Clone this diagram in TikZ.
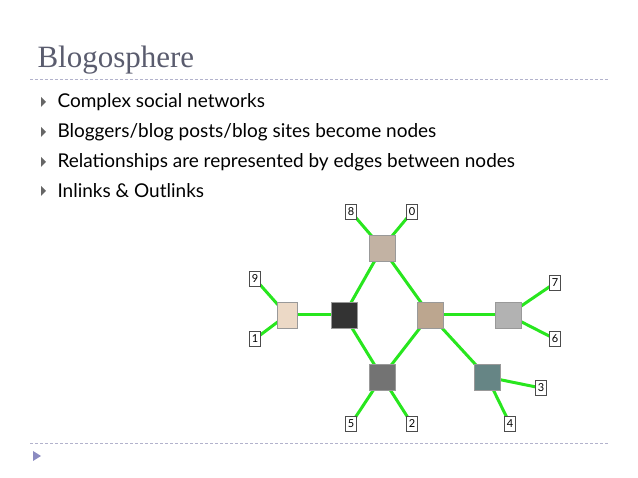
\documentclass[tikz,border=0pt]{standalone}
\usepackage{fontspec}
\setmainfont{Lato}
\newfontfamily\titlefont{Liberation Serif}
\usetikzlibrary{backgrounds}
\definecolor{titlegray}{RGB}{90,92,110}
\begin{document}
\begin{tikzpicture}[x=1pt,y=-1pt,
  photo/.style={minimum width=26pt,minimum height=26pt,inner sep=0pt,draw=black!40,line width=0.3pt},
  lbl/.style={draw=black!70,fill=white,line width=0.6pt,inner sep=1.5pt,minimum width=11pt,minimum height=15pt,font=\fontsize{11}{12}\selectfont},
  edge/.style={draw={rgb,255:red,40;green,230;blue,30},line width=3pt},
  bul/.style={anchor=west,font=\fontsize{19}{22}\selectfont}]
\useasboundingbox (0,0) rectangle (638,478);
\node[anchor=west,font=\titlefont\fontsize{31}{34}\selectfont,text=titlegray] (title) at (34,60) {Blogosphere};
\draw[densely dashed,draw=blue!20!gray!50,line width=0.5pt] (30,79) -- (608,79);
\draw[densely dashed,draw=blue!20!gray!50,line width=0.5pt] (30,443) -- (608,443);
\foreach \y/\t [count=\i] in {102/{Complex social networks},132/{Bloggers/blog posts/blog sites become nodes},162/{Relationships are represented by edges between nodes},191/{Inlinks \& Outlinks}}{
  \fill[black!60] (41,\y-5) -- (46,\y) -- (41,\y+5) -- cycle;
  \node[bul] (b\i) at (54,\y) {\t};
}
\fill[blue!30!gray!70] (33,451) -- (41,456) -- (33,461) -- cycle;
% photos
\node[photo,fill=brown!40!gray!60] (A) at (382,248) {};
\node[photo,minimum width=20pt,fill=brown!30!white] (B) at (287,315) {};
\node[photo,fill=black!80] (C) at (344,315) {};
\node[photo,fill=brown!50!gray!70] (D) at (430,315) {};
\node[photo,fill=gray!60] (E) at (508,315) {};
\node[photo,fill=black!55] (F) at (382,377) {};
\node[photo,fill=teal!40!black!60] (G) at (487,377) {};
% labels
\node[lbl] (l8) at (351,212) {8};
\node[lbl] (l0) at (412,212) {0};
\node[lbl] (l9) at (255,279) {9};
\node[lbl] (l1) at (255,339) {1};
\node[lbl] (l7) at (555,283) {7};
\node[lbl] (l6) at (555,339) {6};
\node[lbl] (l3) at (541,388) {3};
\node[lbl] (l5) at (351,424) {5};
\node[lbl] (l2) at (412,424) {2};
\node[lbl] (l4) at (510,424) {4};
\begin{scope}[on background layer]
\foreach \a/\b in {A/l8,A/l0,A/C,A/D,B/l9,B/l1,B/C,C/F,D/F,D/E,D/G,E/l7,E/l6,G/l3,G/l4,F/l5,F/l2}
  \draw[edge] (\a.center) -- (\b.center);
\end{scope}
\end{tikzpicture}
\end{document}
